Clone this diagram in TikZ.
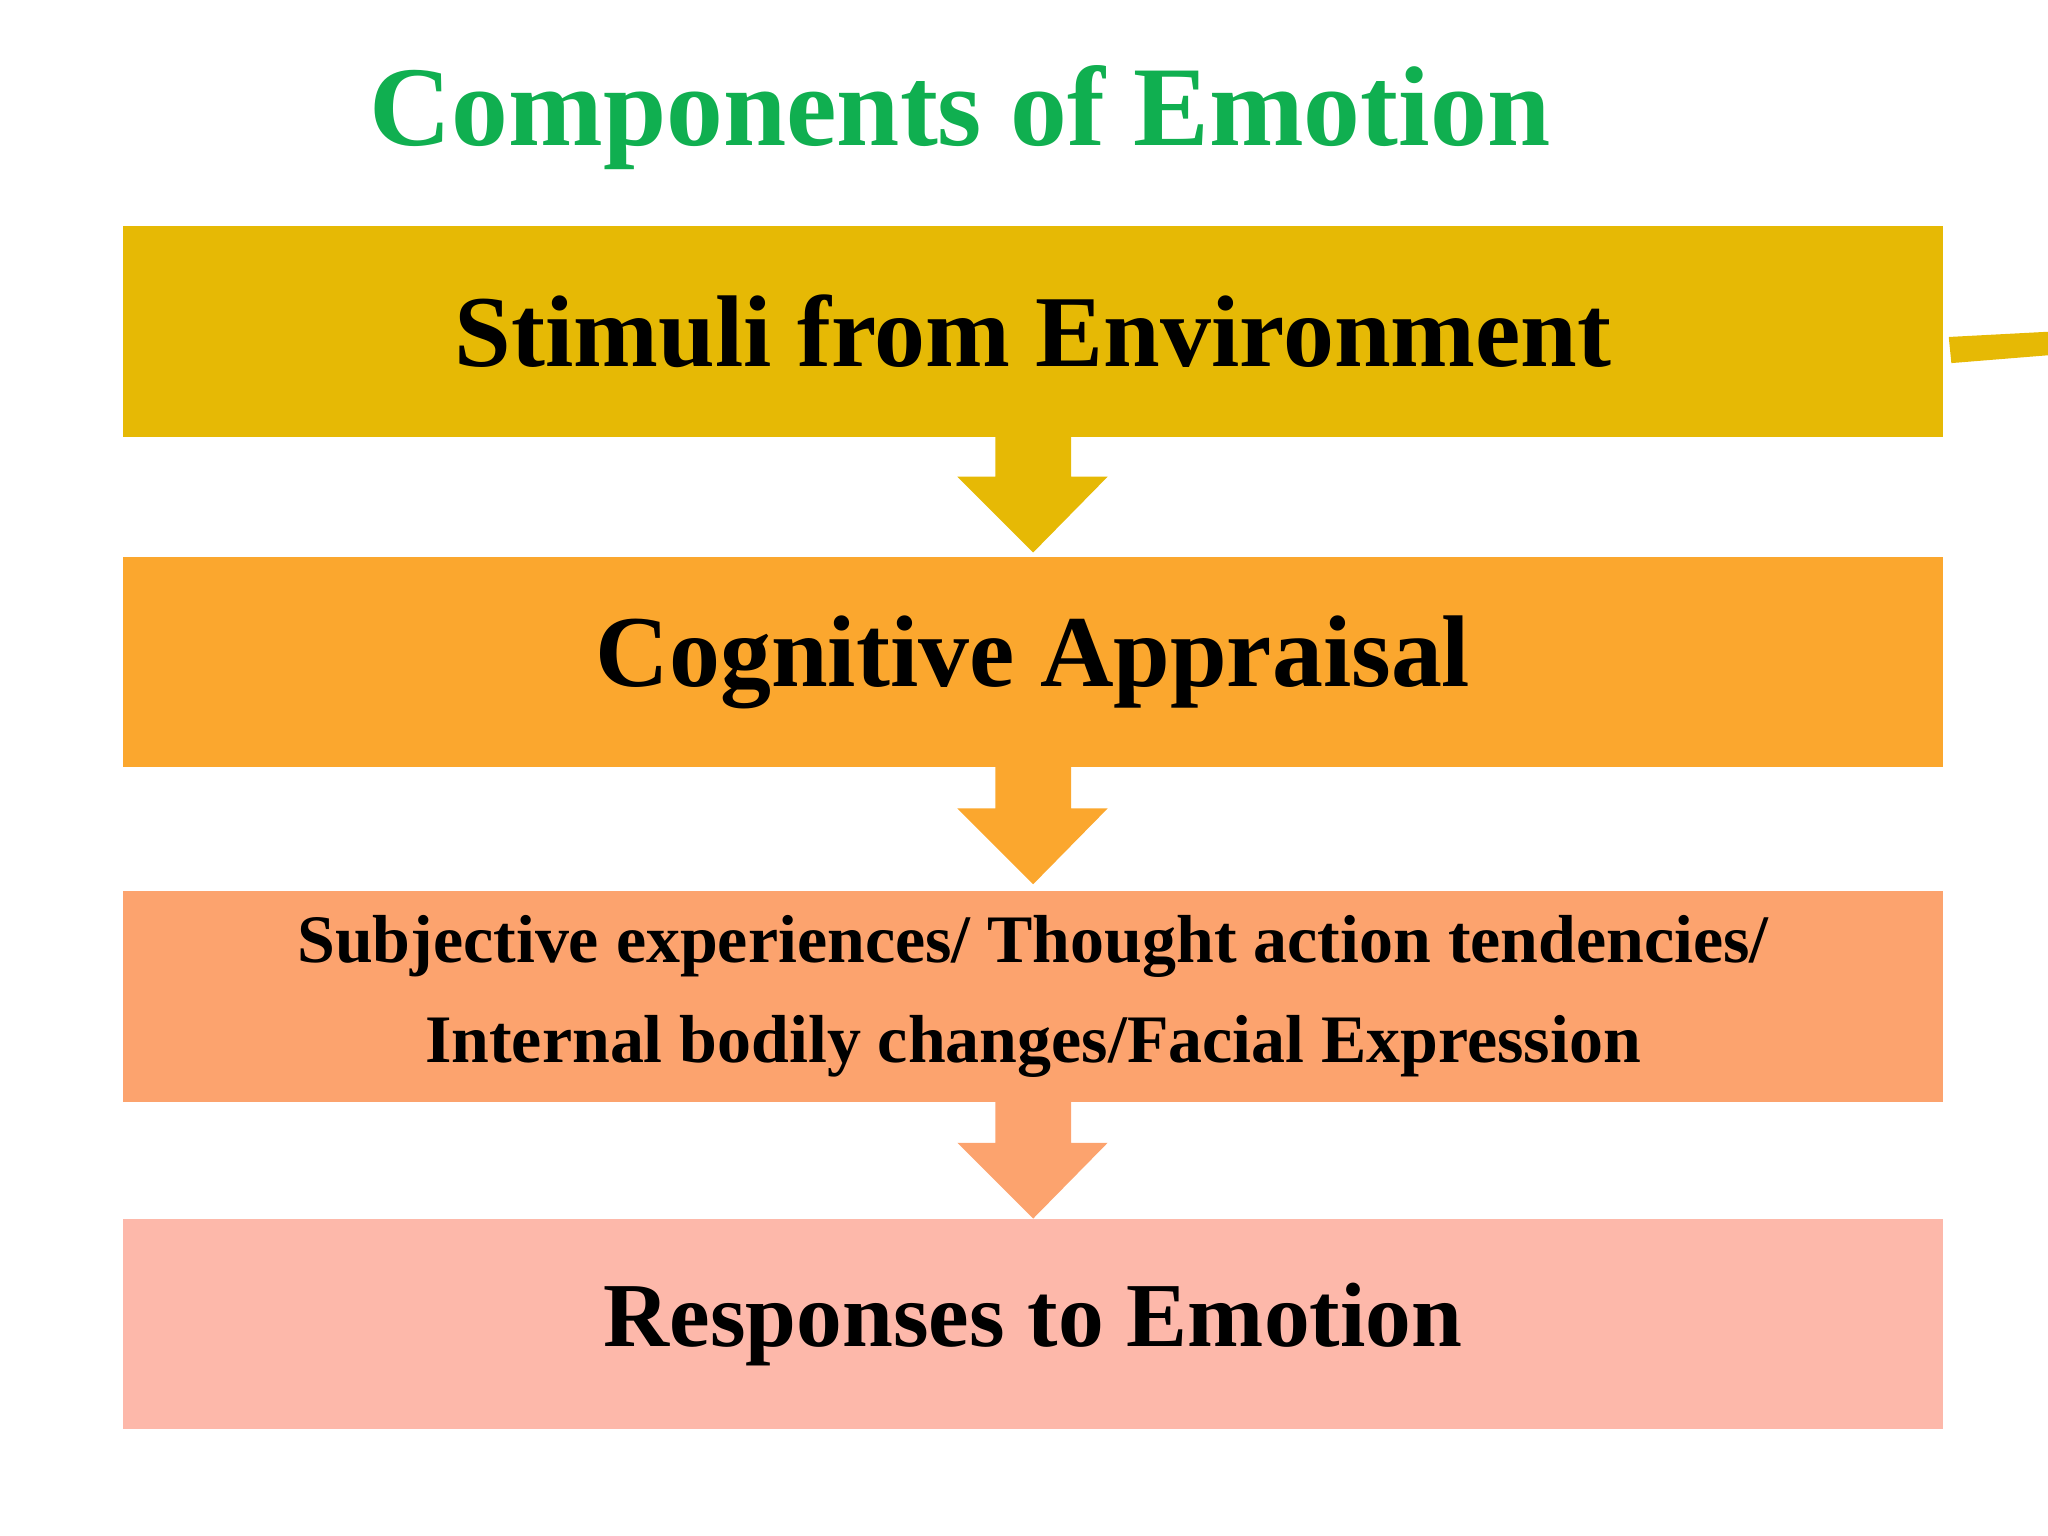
\documentclass[tikz,border=0pt]{standalone}
\usepackage{fontspec}
\setmainfont{Liberation Serif}
\begin{document}
\begin{tikzpicture}[x=0.5pt,y=-0.5pt,
  box/.style={fill=#1,draw=none,minimum width=696.5pt,minimum height=80.5pt,inner sep=0pt,anchor=north west,font=\bfseries\fontsize{39}{47}\selectfont},
  arr/.style={fill=#1,draw=none}]
\useasboundingbox (0,0) rectangle (1568,1176);
\definecolor{c1}{HTML}{E6B905}\definecolor{c2}{HTML}{FBA72E}
\definecolor{c3}{HTML}{FCA36E}\definecolor{c4}{HTML}{FDB8AA}
\definecolor{tg}{HTML}{10AF50}
\node[text=tg,font=\bfseries\fontsize{43.5}{50}\selectfont] (title) at (735,90) {Components of Emotion};
\node[box=c1] (b1) at (94,173) {Stimuli from Environment};
\node[box=c2] (b2) at (94,426) {Cognitive Appraisal};
\node[box=c3,font=\bfseries\fontsize{26}{38}\selectfont,align=center] (b3) at (94,682) {Subjective experiences/ Thought action tendencies/\\Internal bodily changes/Facial Expression};
\node[box=c4,font=\bfseries\fontsize{35}{42}\selectfont] (b4) at (94,933) {Responses to Emotion};
\foreach \t/\c/\n in {333/c1/b2,587/c2/b3,843/c3/b4}{
  \fill[\c] (762,\t) -- (820,\t) -- (820,\t+32) -- (848,\t+32) -- (791,\t+90) -- (733,\t+32) -- (762,\t+32) -- cycle;
}
\fill[c1] (1492,258) -- (1568,254) -- (1568,272) -- (1494,278) -- cycle;
\end{tikzpicture}
\end{document}
